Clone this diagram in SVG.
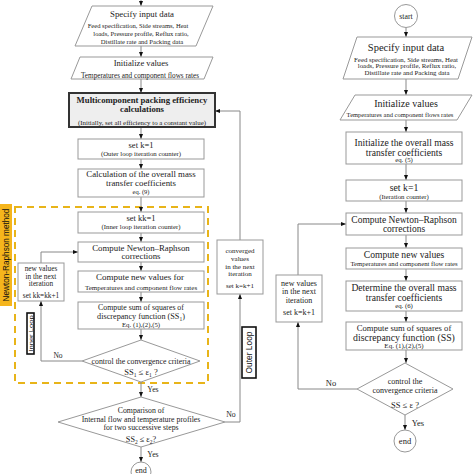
<svg xmlns="http://www.w3.org/2000/svg" width="474" height="474" viewBox="0 0 474 474">
<defs>
<marker id="ah" viewBox="0 0 10 8" refX="10" refY="4" markerWidth="5" markerHeight="4" orient="auto" markerUnits="userSpaceOnUse"><path d="M0,0L10,4L0,8z" fill="#111"/></marker>
</defs>
<style>
.box{fill:#fff;stroke:#999;stroke-width:1}
.bold{fill:#eee;stroke:#333;stroke-width:2}
.t{font-family:"Liberation Serif","Times New Roman",serif;fill:#222;text-anchor:middle}
.s{font-family:"Liberation Sans",Arial,sans-serif;fill:#111;text-anchor:middle}
.c{fill:none;stroke:#888;stroke-width:1}
.ca{fill:none;stroke:#888;stroke-width:1;marker-end:url(#ah)}
.lbl{fill:#fff;stroke:#111;stroke-width:1.6}
</style>
<rect width="474" height="474" fill="#fff"/>

<!-- Left loop frame and labels -->
<rect x="15" y="207" width="193" height="176" fill="none" stroke="#e8b419" stroke-width="2" stroke-dasharray="7,5"/>
<g id="nr-label">
<rect x="0" y="204" width="12" height="102" fill="#f5b51c"/>
<text class="s" font-size="8.2" transform="translate(9,255) rotate(-90)">Newton-Raphson method</text>
</g>
<g id="inner-label">
<rect class="lbl" x="27" y="313" width="7" height="41"/>
<text class="s" font-size="7.6" transform="translate(32.8,333.5) rotate(-90) scale(1,0.82)">Inner Loop</text>
</g>
<g id="outer-label">
<rect class="lbl" x="242" y="327" width="14" height="51"/>
<text class="s" font-size="8.4" transform="translate(252,352.5) rotate(-90)">Outer Loop</text>
</g>

<!-- connectors -->
<g id="connectors">
<line class="ca" x1="141" y1="0" x2="141" y2="6"/>
<line class="ca" x1="141" y1="46" x2="141" y2="57"/>
<line class="ca" x1="141" y1="79" x2="141" y2="93"/>
<line class="ca" x1="141" y1="127" x2="141" y2="139"/>
<line class="ca" x1="141" y1="159" x2="141" y2="169"/>
<line class="ca" x1="141" y1="197" x2="141" y2="212"/>
<line class="ca" x1="141" y1="233" x2="141" y2="242"/>
<line class="ca" x1="141" y1="262" x2="141" y2="271"/>
<line class="ca" x1="141" y1="292" x2="141" y2="302"/>
<line class="ca" x1="141" y1="329" x2="141" y2="340"/>
<line class="ca" x1="141" y1="382" x2="141" y2="397"/>
<line class="ca" x1="141" y1="447" x2="141" y2="462"/>
<polyline class="ca" points="82,361 41,361 41,301"/>
<polyline class="ca" points="41,263 41,252 78,252"/>
<polyline class="ca" points="225,422 240,422 240,294"/>
<polyline class="ca" points="240,240 240,111 215,111"/>

<line class="ca" x1="406" y1="27" x2="406" y2="37"/>
<line class="ca" x1="406" y1="79" x2="406" y2="95"/>
<line class="ca" x1="406" y1="120" x2="406" y2="132"/>
<line class="ca" x1="406" y1="164" x2="406" y2="180"/>
<line class="ca" x1="406" y1="201" x2="406" y2="213"/>
<line class="ca" x1="406" y1="235" x2="406" y2="248"/>
<line class="ca" x1="406" y1="269" x2="406" y2="281"/>
<line class="ca" x1="406" y1="311" x2="406" y2="322"/>
<line class="ca" x1="406" y1="350" x2="406" y2="363"/>
<line class="ca" x1="405" y1="415" x2="405" y2="430"/>
<polyline class="ca" points="357,389 298,389 298,322"/>
<polyline class="ca" points="298,275 298,224 346,224"/>

<text class="t" font-size="7.5" x="58" y="358">No</text>
<text class="t" font-size="7.8" x="153" y="392">Yes</text>
<text class="t" font-size="7.8" x="153" y="457">Yes</text>
<text class="t" font-size="7.8" x="231" y="417">No</text>
<text class="t" font-size="8.5" x="331" y="386">No</text>
<text class="t" font-size="8.5" x="418" y="426">Yes</text>
</g>

<!-- Left column -->
<g id="l-input">
<polygon class="box" points="92,6 213,6 196,46 75,46"/>
<text class="t" font-size="8.8" x="142" y="17">Specify input data</text>
<text class="t" font-size="6.6" x="138" y="27.5">Feed specification, Side streams, Heat</text>
<text class="t" font-size="6.6" x="141" y="35.5">loads, Pressure profile, Reflux ratio,</text>
<text class="t" font-size="6.6" x="142" y="44">Distillate rate and Packing data</text>
</g>
<g id="l-init">
<polygon class="box" points="80,57 213,57 204,79 71,79"/>
<text class="t" font-size="8.6" x="141" y="66">Initialize values</text>
<text class="t" font-size="7.2" x="140" y="77.5">Temperatures and component flows rates</text>
</g>
<g id="l-multi">
<rect class="bold" x="69" y="93" width="146" height="34"/>
<text class="t" font-size="8.7" font-weight="bold" x="142" y="102.5">Multicomponent packing efficiency</text>
<text class="t" font-size="8.7" font-weight="bold" x="142" y="111.5">calculations</text>
<text class="t" font-size="6.9" x="142" y="125">(Initially, set all efficiency to a constant value)</text>
</g>
<g id="l-setk">
<rect class="box" x="78" y="139" width="126" height="20"/>
<text class="t" font-size="8.5" x="141" y="148">set k=1</text>
<text class="t" font-size="6.8" x="141" y="156">(Outer loop iteration counter)</text>
</g>
<g id="l-calc">
<rect class="box" x="78" y="169" width="126" height="28"/>
<text class="t" font-size="8.8" x="141" y="176.5">Calculation of the overall mass</text>
<text class="t" font-size="8.8" x="141" y="186">transfer coefficients</text>
<text class="t" font-size="6.5" x="141" y="194">eq. (9)</text>
</g>
<g id="l-setkk">
<rect class="box" x="78" y="212" width="126" height="21"/>
<text class="t" font-size="8.5" x="141" y="221">set kk=1</text>
<text class="t" font-size="6.8" x="141" y="229">(Inner loop iteration counter)</text>
</g>
<g id="l-nr">
<rect class="box" x="78" y="242" width="126" height="20"/>
<text class="t" font-size="8.8" x="141" y="250.5">Compute Newton–Raphson</text>
<text class="t" font-size="8.8" x="141" y="259">corrections</text>
</g>
<g id="l-new">
<rect class="box" x="78" y="271" width="126" height="21"/>
<text class="t" font-size="9" x="140" y="280">Compute new values for</text>
<text class="t" font-size="7" x="141" y="289.5">Temperatures and component flow rates</text>
</g>
<g id="l-ss">
<rect class="box" x="78" y="302" width="126" height="27"/>
<text class="t" font-size="7.8" x="141" y="310">Compute sum of squares of</text>
<text class="t" font-size="8.2" x="141" y="319">discrepancy function (SS<tspan font-size="5.5" dy="1.8">1</tspan><tspan dy="-1.8">)</tspan></text>
<text class="t" font-size="6.8" x="141" y="326.5">Eq. (1),(2),(5)</text>
</g>
<g id="l-d1">
<polygon class="box" points="141,340 200,361 141,382 82,361"/>
<text class="t" font-size="7.8" x="141" y="363.5">control the convergence criteria</text>
<text class="t" font-size="8.5" x="141" y="375">SS<tspan font-size="5.5" dy="1.8">1</tspan><tspan dy="-1.8"> ≤ ε</tspan><tspan font-size="5.5" dy="1.8">1</tspan><tspan dy="-1.8"> ?</tspan></text>
</g>
<g id="l-newk">
<rect class="box" x="18" y="263" width="46" height="38"/>
<text class="t" font-size="7.3" x="41" y="271">new values</text>
<text class="t" font-size="7.3" x="41" y="278.5">in the next</text>
<text class="t" font-size="7.3" x="41" y="286">iteration</text>
<text class="t" font-size="7.3" x="41" y="297.5">set kk=kk+1</text>
</g>
<g id="l-conv">
<rect class="box" x="217" y="240" width="46" height="54"/>
<text class="t" font-size="7" x="240" y="252.5">converged</text>
<text class="t" font-size="7" x="240" y="260.5">values</text>
<text class="t" font-size="7" x="240" y="268.5">in the next</text>
<text class="t" font-size="7" x="240" y="275.5">iteration</text>
<text class="t" font-size="7" x="240" y="287.5">set k=k+1</text>
</g>
<g id="l-d2">
<polygon class="box" points="141,397 225,422 141,447 58,422"/>
<text class="t" font-size="7.8" x="141" y="412.5">Comparison of</text>
<text class="t" font-size="7.8" x="141" y="421.5">Internal flow and temperature profiles</text>
<text class="t" font-size="7.8" x="141" y="429.5">for two successive steps</text>
<text class="t" font-size="8.2" x="141" y="442">SS<tspan font-size="5.5" dy="1.8">2</tspan><tspan dy="-1.8"> ≤ ε</tspan><tspan font-size="5.5" dy="1.8">2</tspan><tspan dy="-1.8">?</tspan></text>
</g>
<g id="l-end">
<circle class="box" cx="141" cy="472" r="10"/>
<text class="t" font-size="8" x="141" y="472.5">end</text>
</g>

<!-- Right column -->
<g id="r-start">
<circle class="box" cx="406" cy="16" r="11.5"/>
<text class="t" font-size="7.8" x="406" y="18.5">start</text>
</g>
<g id="r-input">
<polygon class="box" points="357,37 472,37 458,79 343,79"/>
<text class="t" font-size="10.5" x="406" y="50.5">Specify input data</text>
<text class="t" font-size="6.8" x="406" y="61.5">Feed specification, Side streams, Heat</text>
<text class="t" font-size="6.8" x="407" y="67.5">loads, Pressure profile, Reflux ratio,</text>
<text class="t" font-size="6.8" x="407" y="75">Distillate rate and Packing data</text>
</g>
<g id="r-init">
<polygon class="box" points="355,95 472,95 457,120 340,120"/>
<text class="t" font-size="10" x="406" y="106.5">Initialize values</text>
<text class="t" font-size="6.5" x="400" y="117">Temperatures and component flows rates</text>
</g>
<g id="r-initk">
<rect class="box" x="346" y="132" width="116" height="32"/>
<text class="t" font-size="9.6" x="404" y="145.5">Initialize the overall mass</text>
<text class="t" font-size="9.6" x="404" y="155.5">transfer coefficients</text>
<text class="t" font-size="6.8" x="404" y="162">eq. (5)</text>
</g>
<g id="r-setk">
<rect class="box" x="346" y="180" width="116" height="21"/>
<text class="t" font-size="9.8" x="404" y="190.5">set k=1</text>
<text class="t" font-size="6.8" x="404" y="198.5">(Iteration counter)</text>
</g>
<g id="r-nr">
<rect class="box" x="346" y="213" width="116" height="22"/>
<text class="t" font-size="9.5" x="404" y="223">Compute Newton–Raphson</text>
<text class="t" font-size="9.5" x="404" y="231.5">corrections</text>
</g>
<g id="r-new">
<rect class="box" x="346" y="248" width="116" height="21"/>
<text class="t" font-size="9.6" x="404" y="258">Compute new values</text>
<text class="t" font-size="6.7" x="404" y="266">Temperatures and component flow rates</text>
</g>
<g id="r-det">
<rect class="box" x="346" y="281" width="116" height="30"/>
<text class="t" font-size="9.6" x="404" y="290.5">Determine the overall mass</text>
<text class="t" font-size="9.6" x="404" y="300.5">transfer coefficients</text>
<text class="t" font-size="6.8" x="404" y="307.5">eq. (6)</text>
</g>
<g id="r-ss">
<rect class="box" x="346" y="322" width="116" height="28"/>
<text class="t" font-size="8.6" x="404" y="330.5">Compute sum of squares of</text>
<text class="t" font-size="9.8" x="404" y="340.5">discrepancy function (SS)</text>
<text class="t" font-size="7" x="404" y="347.5">Eq. (1),(2),(5)</text>
</g>
<g id="r-d">
<polygon class="box" points="405,363 453,389 405,415 357,389"/>
<text class="t" font-size="8" x="405" y="383.5">control the</text>
<text class="t" font-size="8" x="405" y="392.5">convergence criteria</text>
<text class="t" font-size="8.5" x="405" y="407.5">SS ≤ ε ?</text>
</g>
<g id="r-newk">
<rect class="box" x="276" y="275" width="46" height="47"/>
<text class="t" font-size="8" x="299" y="285.5">new values</text>
<text class="t" font-size="8" x="299" y="294">in the next</text>
<text class="t" font-size="8" x="299" y="302.5">iteration</text>
<text class="t" font-size="8" x="299" y="314.5">set k=k+1</text>
</g>
<g id="r-end">
<circle class="box" cx="405" cy="441" r="11"/>
<text class="t" font-size="8.5" x="405" y="444">end</text>
</g>
</svg>
